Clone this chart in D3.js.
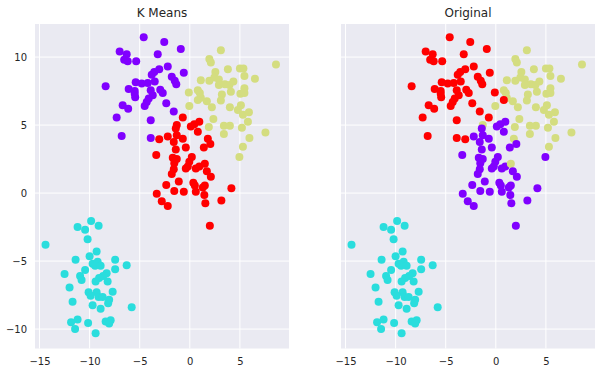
<!DOCTYPE html>
<html>
<head>
<meta charset="utf-8">
<script src="https://cdn.jsdelivr.net/npm/d3@7"></script>
<style>
  body { margin: 0; background: #ffffff; }
  text { font-family: "DejaVu Sans", sans-serif; fill: #262626; }
</style>
</head>
<body>
<div id="chart"></div>
<script>
// panel titles and tick values
const TITLES = ["K Means", "Original"];
const X_TICKS = [-15, -10, -5, 0, 5];
const Y_TICKS = [-10, -5, 0, 5, 10];

// points grouped by k-means cluster: [x, y, original label]
// labels: 0 = purple, 1 = cyan, 2 = khaki, 3 = red
const KM_PURPLE = [
  [-4.6, 11.45, 3], [-2.55, 11.1, 3], [-0.9, 10.6, 3], [-7.0, 10.4, 3], [-6.3, 10.2, 3],
  [-6.55, 9.8, 3], [-6.2, 9.7, 3], [-5.35, 9.7, 3], [-3.2, 10.2, 3], [-2.2, 9.3, 3],
  [-3.05, 9.1, 3], [-3.55, 8.9, 3], [-3.8, 8.7, 3], [-0.6, 8.85, 3], [-1.8, 8.55, 3],
  [-1.5, 8.25, 3], [-1.35, 8.0, 3], [-8.4, 7.85, 3], [-5.4, 8.15, 3], [-4.8, 8.05, 3],
  [-4.2, 8.1, 3], [-3.5, 8.2, 3], [-6.1, 7.65, 3], [-5.5, 7.5, 3], [-5.5, 7.3, 3],
  [-5.45, 7.05, 3], [-3.9, 7.55, 3], [-3.7, 7.2, 3], [-2.95, 7.6, 3], [-2.7, 7.35, 3],
  [-4.1, 6.95, 3], [-4.3, 6.7, 3], [-4.5, 6.4, 3], [-6.7, 6.45, 3], [-6.15, 6.2, 3],
  [-2.35, 6.6, 3], [-1.6, 6.0, 3], [-7.3, 5.55, 3], [-3.9, 5.35, 3], [-6.8, 4.2, 3],
  [-3.9, 4.05, 3]
];
const KM_CYAN = [
  [-9.85, -2.05, 1], [-11.2, -2.5, 1], [-10.45, -2.7, 1], [-9.1, -2.4, 1], [-10.2, -3.4, 1],
  [-14.4, -3.8, 1], [-9.3, -4.3, 1], [-11.4, -4.9, 1], [-10.0, -4.65, 1], [-7.45, -4.9, 1],
  [-6.3, -5.3, 1], [-7.45, -5.6, 1], [-9.7, -5.2, 1], [-9.2, -5.05, 1], [-9.45, -5.35, 1],
  [-8.9, -5.35, 1], [-12.5, -5.95, 1], [-10.45, -5.65, 1], [-10.95, -6.1, 1], [-10.8, -6.4, 1],
  [-8.3, -5.9, 1], [-8.65, -6.1, 1], [-9.05, -6.25, 1], [-9.4, -6.5, 1], [-8.2, -6.5, 1],
  [-12.0, -6.95, 1], [-7.7, -7.25, 1], [-10.1, -7.3, 1], [-9.3, -7.3, 1], [-9.9, -7.55, 1],
  [-9.1, -7.65, 1], [-8.7, -7.65, 1], [-8.05, -7.85, 1], [-8.15, -8.1, 1], [-11.7, -8.0, 1],
  [-9.7, -8.25, 1], [-8.9, -8.5, 1], [-5.8, -8.4, 1], [-11.2, -9.3, 1], [-11.85, -9.5, 1],
  [-10.15, -9.55, 1], [-8.4, -9.45, 1], [-7.9, -9.35, 1], [-8.05, -9.6, 1], [-11.45, -10.0, 1],
  [-9.4, -10.3, 1]
];
const KM_KHAKI = [
  [3.1, 10.5, 2], [1.95, 9.85, 2], [2.1, 9.6, 2], [8.6, 9.45, 2], [3.8, 9.1, 2],
  [5.0, 9.15, 2], [5.35, 9.15, 2], [2.55, 8.9, 2], [5.45, 8.6, 2], [6.5, 8.4, 2],
  [1.1, 8.3, 2], [1.95, 8.25, 2], [2.45, 8.5, 2], [2.9, 8.35, 2], [2.9, 7.95, 2],
  [3.5, 8.0, 2], [3.95, 7.95, 2], [4.35, 8.2, 2], [4.1, 7.45, 2], [5.45, 7.7, 2],
  [5.05, 7.3, 2], [5.45, 7.35, 2], [-0.1, 7.4, 3], [0.8, 7.55, 2], [1.0, 7.35, 2],
  [1.1, 7.0, 2], [0.8, 6.85, 3], [1.7, 6.75, 2], [3.2, 7.25, 2], [3.1, 6.8, 2],
  [-0.05, 6.4, 2], [2.2, 6.3, 2], [4.0, 6.3, 2], [5.1, 6.45, 2], [4.8, 6.1, 2],
  [5.3, 5.75, 2], [5.9, 5.95, 2], [2.35, 5.45, 2], [5.8, 5.25, 2], [1.9, 4.85, 2],
  [3.4, 4.95, 2], [4.0, 4.95, 2], [5.2, 4.8, 2], [7.55, 4.45, 2], [3.4, 4.35, 2],
  [5.95, 4.05, 2], [5.3, 3.4, 2], [4.95, 2.65, 0]
];
const KM_RED = [
  [-0.7, 5.55, 3], [-1.3, 5.0, 2], [-1.4, 4.75, 0], [0.1, 4.9, 0], [0.45, 5.05, 0],
  [0.95, 5.25, 0], [0.8, 4.5, 0], [-3.05, 3.95, 3], [-2.2, 4.15, 0], [-1.3, 4.25, 0],
  [-0.7, 4.0, 0], [-1.6, 3.75, 0], [1.8, 4.0, 2], [2.05, 3.6, 0], [1.4, 3.35, 0],
  [-1.4, 3.2, 0], [-0.4, 3.35, 0], [-3.35, 2.8, 0], [-1.7, 2.6, 0], [-1.3, 2.5, 0],
  [-1.55, 2.2, 0], [0.2, 2.65, 0], [-0.05, 2.3, 0], [-0.2, 1.95, 0], [-0.4, 1.8, 0],
  [0.6, 1.8, 0], [0.95, 1.95, 0], [1.5, 2.15, 2], [1.7, 1.6, 0], [2.1, 1.2, 0],
  [-1.6, 1.75, 0], [-1.8, 1.4, 0], [-1.1, 0.85, 0], [-2.35, 0.6, 0], [0.35, 0.75, 0],
  [0.5, 0.55, 0], [1.3, 0.4, 0], [1.5, 0.55, 0], [4.15, 0.35, 0], [-1.55, 0.15, 0],
  [-0.6, 0.1, 0], [0.6, 0.1, 0], [-3.3, -0.05, 0], [1.45, -0.15, 0], [-2.8, -0.6, 0],
  [-2.2, -0.95, 0], [1.55, -0.75, 0], [3.15, -0.55, 0], [2.0, -2.4, 0]
];

// rainbow colormap sampled at 4 classes
const COLORS = ["#8000ff", "#2adddd", "#d4dd80", "#ff0000"];

// frame and panel geometry
const FRAME_WIDTH = 600;
const FRAME_HEIGHT = 373;
const PANELS = [{left: 35, right: 289}, {left: 341, right: 595}];
const TOP = 24;
const BOTTOM = 348.5;

// flatten into one list with both labels
const POINTS = [];
[KM_PURPLE, KM_CYAN, KM_KHAKI, KM_RED].forEach((group, k) => {
  group.forEach((p) => POINTS.push({x: p[0], y: p[1], km: k, orig: p[2]}));
});

const SVG = d3.select("#chart")
  .append("svg")
    .attr("width", FRAME_WIDTH)
    .attr("height", FRAME_HEIGHT);

const Y_SCALE = d3.scaleLinear()
  .domain([-11.43, 12.43])
  .range([BOTTOM, TOP]);

PANELS.forEach((panel, i) => {
  const X_SCALE = d3.scaleLinear()
    .domain([-15.45, 9.9])
    .range([panel.left, panel.right]);

  // background
  SVG.append("rect")
    .attr("x", panel.left)
    .attr("y", TOP)
    .attr("width", panel.right - panel.left)
    .attr("height", BOTTOM - TOP)
    .attr("fill", "#eaeaf2");

  // white grid lines
  SVG.append("g")
    .selectAll("line")
    .data(X_TICKS)
    .enter()
    .append("line")
      .attr("x1", (d) => X_SCALE(d))
      .attr("x2", (d) => X_SCALE(d))
      .attr("y1", TOP)
      .attr("y2", BOTTOM)
      .attr("stroke", "#ffffff")
      .attr("stroke-width", 1);

  SVG.append("g")
    .selectAll("line")
    .data(Y_TICKS)
    .enter()
    .append("line")
      .attr("x1", panel.left)
      .attr("x2", panel.right)
      .attr("y1", (d) => Y_SCALE(d))
      .attr("y2", (d) => Y_SCALE(d))
      .attr("stroke", "#ffffff")
      .attr("stroke-width", 1);

  // scatter points
  SVG.append("g")
    .selectAll("circle")
    .data(POINTS)
    .enter()
    .append("circle")
      .attr("cx", (d) => X_SCALE(d.x))
      .attr("cy", (d) => Y_SCALE(d.y))
      .attr("r", 4)
      .attr("fill", (d) => COLORS[i === 0 ? d.km : d.orig]);

  // x axis labels
  const xAxis = SVG.append("g")
    .attr("transform", "translate(0," + BOTTOM + ")")
    .call(d3.axisBottom(X_SCALE).tickValues(X_TICKS).tickSize(0).tickPadding(9));
  xAxis.select(".domain").remove();
  xAxis.selectAll("text").attr("font-size", "10px").attr("font-family", "DejaVu Sans");

  // y axis labels only on the left panel
  if (i === 0) {
    const yAxis = SVG.append("g")
      .attr("transform", "translate(" + panel.left + ",0)")
      .call(d3.axisLeft(Y_SCALE).tickValues(Y_TICKS).tickSize(0).tickPadding(8));
    yAxis.select(".domain").remove();
    yAxis.selectAll("text").attr("font-size", "10px").attr("font-family", "DejaVu Sans");
  }

  // title
  SVG.append("text")
    .attr("x", (panel.left + panel.right) / 2)
    .attr("y", 17.3)
    .attr("text-anchor", "middle")
    .attr("font-size", "12px")
    .text(TITLES[i]);
});
</script>
</body>
</html>
